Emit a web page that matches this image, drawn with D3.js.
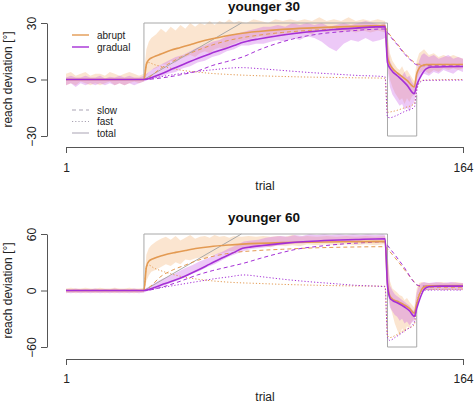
<!DOCTYPE html>
<html><head><meta charset="utf-8">
<script src="https://cdn.jsdelivr.net/npm/d3@7"></script>
<style>body{margin:0;background:#fff} svg{display:block;font-family:"Liberation Sans",Arial,Helvetica,sans-serif}</style>
</head><body><svg id="c" width="474" height="403"></svg>
<script>
// ---------- data ----------
const trialTicks = [1, 164];
const panelTitles = ["younger 30", "younger 60"];
const yTicks30 = [-30, 0, 30];
const yTicks60 = [-60, 0, 60];
const groupNames = ["abrupt", "gradual"];
const processNames = ["slow", "fast", "total"];

// perturbation schedules [trial, deg]
const schedAbrupt30 = [[1,0],[33,0],[33,30],[133,30],[133,-30],[145,-30],[145,-8]];
const schedRamp30 = [[33,0],[73,30]];
const schedAbrupt60 = [[1,0],[33,0],[33,60],[133,60],[133,-60],[145,-60],[145,-20]];
const schedRamp60 = [[33,0],[73,60]];

// data confidence bands [trial, lo, hi]
const abruptBand30 = [[1,-3,3],[3,-2,4],[5,-3,2],[7,-1,3],[9,-2,4],[11,-3,2],[13,-2,3],[15,-3,3],[17,-2,2],[19,-1,4],[21,-3,3],[23,-2,2],[25,-3,3],[27,-2,4],[29,-1,3],[31,-2,2],[33,-1,3],
 [34,2,16],[35,4,20],[36,5,22],[38,6,24],[40,8,27],[42,8,25],[44,10,28],[46,9,26],[48,11,29],[50,12,27],[52,13,30],[54,12,28],[56,14,30],[58,15,29],[60,14,31],[62,16,29],[64,17,31],[66,16,30],[68,18,32],[70,19,30],[72,20,31],[75,21,30],[78,22,32],[81,23,31],[84,22,30],[87,24,32],[90,23,31],[93,25,32],[96,24,31],[99,25,32],[102,24,31],[105,26,33],[108,25,31],[111,26,32],[114,25,31],[117,26,33],[120,25,31],[123,26,32],[126,25,31],[129,26,32],[132,25,31],
 [133,8,24],[134,0,14],[135,-4,10],[136,-7,8],[137,-9,6],[138,-11,5],[139,-10,7],[140,-13,4],[141,-10,5],[142,-12,3],[143,-9,1],[144,-8,-1],
 [145,0,10],[146,3,14],[147,4,15],[148,5,16],[150,3,13],[152,5,14],[154,4,12],[156,6,13],[158,5,12],[160,6,13],[162,5,12],[164,6,11]];
const gradualBand30 = [[1,-3,1],[3,-2,2],[5,-4,1],[7,-2,1],[9,-3,2],[11,-2,1],[13,-3,1],[15,-2,2],[17,-3,0.5],[19,-2,1.5],[21,-3,1],[23,-2,2],[25,-3,1],[27,-2,2],[29,-3,1],[31,-2,1],[33,-1,2],
 [35,0,4],[37,0.5,6],[40,1.5,8],[43,3,10],[46,4,12],[49,6,13],[52,7,15],[55,9,17],[58,10,18],[61,12,20],[64,13,21],[67,15,23],[70,16,24],[73,18,25],[76,18,26],[79,19,27],[82,19,28],[85,20,28],[88,21,29],[91,20,28],[94,22,30],[97,21,29],[100,23,30],[103,22,29],[106,20,30],[109,17,28],[112,15,29],[115,19,30],[118,21,29],[121,20,30],[124,22,31],[127,20,30],[130,21,29],[132,22,30],
 [133,5,20],[134,-4,10],[135,-8,7],[136,-10,5],[137,-12,4],[138,-14,3],[139,-13,2],[140,-16,4],[141,-15,1],[142,-17,2],[143,-14,-1],[144,-12,-3],
 [145,-6,4],[146,0,10],[147,2,13],[148,3,14],[150,2,12],[152,4,13],[154,3,11],[156,5,12],[158,4,13],[160,3,11],[162,5,12],[164,4,11]];
const abruptBand60 = [[1,-3,2],[3,-2,3],[5,-3,2],[7,-2,2],[9,-3,3],[11,-2,2],[13,-3,2],[15,-2,3],[17,-3,2],[19,-2,2],[21,-3,3],[23,-2,2],[25,-3,2],[27,-2,3],[29,-3,2],[31,-2,2],[33,-2,3],
 [34,10,38],[35,16,45],[36,20,48],[38,22,52],[40,25,55],[42,28,57],[44,26,54],[46,30,58],[48,28,53],[50,33,56],[52,32,59],[54,34,55],[56,35,57],[58,33,58],[60,37,56],[62,38,59],[64,39,57],[66,40,58],[68,42,56],[70,42,58],[73,44,57],[76,45,58],[79,46,57],[82,47,58],[85,46,57],[88,48,58],[91,47,57],[94,48,59],[97,47,57],[100,49,58],[104,48,57],[108,49,58],[112,48,57],[116,49,58],[120,48,57],[124,49,58],[128,48,57],[132,49,58],
 [133,5,40],[134,-15,10],[135,-25,2],[136,-35,0],[137,-42,-2],[138,-48,-5],[139,-40,-6],[140,-45,-10],[141,-38,-8],[142,-40,-12],[143,-33,-15],[144,-30,-18],
 [145,-10,2],[146,-1,8],[147,1,9],[149,2,8],[152,1,8],[155,2,9],[158,1,8],[161,2,9],[164,1,8]];
const gradualBand60 = [[1,-2,1.5],[3,-3,1],[5,-2,2],[7,-3,1],[9,-2,1.5],[11,-3,1],[13,-2,2],[15,-3,1],[17,-2,1.5],[19,-3,1],[21,-2,2],[23,-3,1],[25,-2,1.5],[27,-3,1],[29,-2,2],[31,-3,1],[33,-2,1.5],
 [35,0,4],[38,2,9],[41,5,13],[44,8,16],[47,11,20],[50,14,24],[53,18,27],[56,21,31],[59,25,34],[62,28,38],[65,32,41],[68,36,45],[71,39,48],[74,42,52],[77,44,53],[80,45,54],[83,46,56],[86,47,57],[89,48,58],[92,49,57],[95,50,59],[98,50,58],[101,51,60],[104,51,59],[107,52,60],[110,52,59],[113,53,60],[116,52,59],[119,53,60],[122,53,59],[125,54,60],[128,53,59],[131,54,60],[132,53,59],
 [133,0,35],[134,-18,5],[135,-22,0],[136,-26,-4],[137,-28,-6],[138,-32,-8],[139,-30,-10],[140,-35,-12],[141,-33,-14],[142,-37,-16],[143,-34,-20],[144,-32,-22],
 [145,-15,-2],[146,-4,6],[147,0,8],[148,1,9],[150,0,8],[153,1,9],[156,0,8],[159,1,9],[162,0,8],[164,1,8]];

// model fits [trial, deg]
const abruptTotal30 = [[1,0],[33,0],[34,8],[35,10.5],[37,12],[40,13.5],[44,15.5],[48,17],[52,18.5],[56,20],[61,21.6],[66,23],[72,24.3],[80,25.5],[90,26.6],[100,27.3],[110,27.8],[120,28.2],[132,28.6],[133,12],[134,8],[135,6],[137,3.5],[139,1.5],[141,-0.5],[144,-4],[145,3],[146,6],[147,7.3],[149,7.9],[152,8],[164,8]];
const abruptSlow30 = [[1,0],[33,0],[34,0.3],[36,2],[40,6],[44,9],[48,11.8],[52,14],[56,16],[61,18.3],[66,20.2],[72,21.9],[80,23.5],[90,25],[100,26],[110,26.7],[120,27.3],[132,27.8],[133,25.5],[135,22],[137,19],[140,14],[142,11.5],[144,9],[145,8.2],[148,8],[164,8]];
const abruptFast30 = [[1,0],[33,0],[34,8],[35,9],[37,8],[40,7],[44,6],[48,5],[52,4.3],[56,3.8],[61,3.2],[66,2.8],[72,2.4],[80,2],[90,1.6],[100,1.3],[110,1.1],[120,0.9],[132,0.7],[133,-17.4],[135,-17],[140,-15],[144,-12.9],[145,-5],[146,-1.5],[148,-0.3],[164,0]];
const gradualTotal30 = [[1,0],[33,0],[37,1.5],[41,3.5],[45,5.8],[50,8.5],[55,11.2],[60,13.6],[65,15.8],[70,18],[73,19.5],[76,20.5],[80,21.5],[90,23.6],[100,25.2],[110,26.4],[120,27.3],[132,28.1],[133,9],[134,6],[135,4.3],[137,2],[139,-0.3],[141,-3],[144,-7.5],[145,-3],[146,0],[147,2.5],[148,4.5],[149,5.8],[151,6.6],[164,6.9]];
const gradualSlow30 = [[1,0],[33,0],[40,0.8],[48,2.5],[55,4.5],[61,7.4],[67,9.5],[74,12.2],[80,15.6],[88,19.3],[95,21.8],[104,24],[115,25.5],[132,26.8],[133,25],[135,21.5],[137,18.5],[140,13.5],[142,11],[144,8.5],[145,7.8],[148,7.3],[164,7.2]];
const gradualFast30 = [[1,0],[33,0],[40,1.5],[50,3.5],[60,5],[73,6.3],[80,5.8],[90,4.8],[100,3.8],[110,3],[120,2.2],[132,1.5],[133,-20],[134,-20.3],[136,-19.5],[140,-17],[144,-14.7],[145,-6],[146,-2],[148,-0.5],[164,-0.3]];

const abruptTotal60 = [[1,0],[33,0],[34,25],[35,31],[37,34],[41,37.5],[46,40.5],[50,42.5],[55,44.8],[60,46.5],[68,48.3],[80,50],[90,50.8],[100,51.3],[115,51.8],[132,52.2],[133,8],[134,-6],[135,-9],[137,-11.5],[140,-15.5],[142,-19],[144,-24],[145,-14],[146,-5],[147,1],[148,3.8],[150,5],[164,5.2]];
const abruptSlow60 = [[1,0],[33,0],[35,3],[40,15],[45,22],[50,27],[55,32],[60,35.5],[70,40.3],[80,42.5],[90,43.8],[100,45],[115,46],[132,46.5],[133,44],[136,35],[140,22],[144,9],[145,6],[147,4],[150,3.5],[164,3.5]];
const abruptFast60 = [[1,0],[33,0],[34,25],[35,27],[37,24],[40,21],[45,17],[50,14],[55,12],[60,10.5],[70,8.5],[80,7.5],[90,6.5],[100,5.8],[115,5],[132,4.5],[133,-48],[134,-50],[136,-48],[140,-42],[144,-36.5],[145,-14],[146,-4],[147,-0.5],[149,1],[164,1.3]];
const gradualTotal60 = [[1,0],[33,0],[37,3],[41,6.8],[45,10.3],[50,15.5],[55,21.5],[60,28],[65,34.5],[70,40.5],[73.5,44.8],[77,46.3],[81,47.6],[90,50],[100,52],[110,53.3],[120,54.2],[132,55],[133,5],[134,-8],[135,-10.5],[137,-13],[140,-17.5],[142,-21.5],[144,-27.5],[145,-19],[146,-11],[147,-4],[148,1],[149,3.3],[151,4.3],[155,4.6],[164,4.6]];
const gradualSlow60 = [[1,0],[33,0],[41,4],[47,9],[55,16.5],[61,21],[68,25.3],[74,29],[81,34.3],[90,40.5],[96,44],[105,47],[115,49.5],[125,51],[132,51.8],[133,48],[136,38],[140,24],[144,8.5],[145,6],[147,4.8],[150,4.5],[164,4.5]];
const gradualFast60 = [[1,0],[33,0],[40,3],[48,6.5],[55,9.5],[62,12.5],[68,14.5],[74,16.5],[81,14.7],[90,12],[100,9.5],[110,7.5],[120,5.5],[132,4],[133,-50],[134,-53],[136,-50],[140,-43],[144,-34],[145,-15],[146,-5],[147,-1],[149,0.5],[164,0.5]];

// ---------- drawing ----------
const svg = d3.select("#c");
const colAbrupt = "#e39a52", colGradual = "#a52fd6";
const fillAbrupt = "#f3aa62", fillGradual = "#c656e6";
const grey = "#a8a8a8", axisCol = "#555";

const panels = [
  {title: panelTitles[0], ticks: yTicks30, dom: [-30,30], yr: [136,23], axisY: 147, titleY: 11, labY: 172, trialY: 190,
   bands: [abruptBand30, gradualBand30], sched: [schedAbrupt30, schedRamp30],
   models: [[abruptSlow30, abruptFast30, abruptTotal30],[gradualSlow30, gradualFast30, gradualTotal30]]},
  {title: panelTitles[1], ticks: yTicks60, dom: [-60,60], yr: [347,234], axisY: 359, titleY: 222, labY: 383, trialY: 401,
   bands: [abruptBand60, gradualBand60], sched: [schedAbrupt60, schedRamp60],
   models: [[abruptSlow60, abruptFast60, abruptTotal60],[gradualSlow60, gradualFast60, gradualTotal60]]}
];

const x = d3.scaleLinear().domain([1,164]).range([66,463]);
const lineCols = [colAbrupt, colGradual];
const fills = [fillAbrupt, fillGradual];
const dashes = ["4,3", "1.2,2", null];

panels.forEach((p, pi) => {
  const y = d3.scaleLinear().domain(p.dom).range(p.yr);
  const g = svg.append("g");
  // bands
  p.bands.forEach((b, i) => {
    g.append("path").datum(b)
      .attr("d", d3.area().x(d => x(d[0])).y0(d => y(d[1])).y1(d => y(d[2])))
      .attr("fill", fills[i]).attr("fill-opacity", i === 0 ? 0.3 : 0.32).attr("stroke", "none");
  });
  // schedules
  p.sched.forEach(s => {
    g.append("path").datum(s)
      .attr("d", d3.line().x(d => x(d[0])).y(d => y(d[1])))
      .attr("fill", "none").attr("stroke", grey).attr("stroke-width", 1);
  });
  // models: slow & fast first, then totals
  [0,1].forEach(k => {
    p.models.forEach((m, gi) => {
      g.append("path").datum(m[k])
        .attr("d", d3.line().x(d => x(d[0])).y(d => y(d[1])).curve(d3.curveMonotoneX))
        .attr("fill", "none").attr("stroke", lineCols[gi]).attr("stroke-width", 1)
        .attr("stroke-dasharray", dashes[k]);
    });
  });
  p.models.forEach((m, gi) => {
    g.append("path").datum(m[2])
      .attr("d", d3.line().x(d => x(d[0])).y(d => y(d[1])).curve(d3.curveMonotoneX))
      .attr("fill", "none").attr("stroke", lineCols[gi]).attr("stroke-width", 1.6);
  });

  // y axis
  const ya = g.append("g").attr("transform", "translate(47,0)")
    .call(d3.axisLeft(y).tickValues(p.ticks).tickSize(6).tickSizeOuter(0).tickFormat(d => d === 0 ? "0" : String(d).replace("-", "\u2212")));
  ya.select(".domain").attr("stroke", axisCol);
  ya.selectAll(".tick line").attr("stroke", axisCol);
  ya.selectAll(".tick text").attr("x", null).attr("dy", null)
    .attr("transform", "translate(-11,0) rotate(-90)").attr("text-anchor", "middle")
    .attr("fill", "#222").style("font-size", "12px").style("font-family", "Liberation Sans, Arial, sans-serif");

  // x axis
  const xa = g.append("g").attr("transform", `translate(0,${p.axisY})`)
    .call(d3.axisBottom(x).tickValues(trialTicks).tickSize(6).tickSizeOuter(0).tickFormat(d3.format("d")));
  xa.select(".domain").attr("stroke", axisCol);
  xa.selectAll(".tick line").attr("stroke", axisCol);
  xa.selectAll(".tick text").attr("y", null).attr("dy", null)
    .attr("transform", `translate(0,${p.labY - p.axisY})`)
    .attr("fill", "#222").style("font-size", "12px").style("font-family", "Liberation Sans, Arial, sans-serif");

  // labels
  g.append("text").attr("x", 265).attr("y", p.trialY).attr("text-anchor", "middle")
    .attr("fill", "#222").style("font-size", "12px").text("trial");
  g.append("text").attr("transform", `translate(12,${(p.yr[0]+p.yr[1])/2}) rotate(-90)`)
    .attr("text-anchor", "middle").attr("fill", "#222").style("font-size", "12px").text("reach deviation [°]");
  g.append("text").attr("x", 264).attr("y", p.titleY).attr("text-anchor", "middle")
    .attr("fill", "#111").style("font-size", "13.5px").style("font-weight", "bold").text(p.title);
});

// legends (top panel)
const leg = svg.append("g").style("font-size", "10px");
groupNames.forEach((n, i) => {
  const yy = 35 + i * 12;
  leg.append("line").attr("x1", 72).attr("x2", 89).attr("y1", yy).attr("y2", yy)
    .attr("stroke", lineCols[i]).attr("stroke-width", 1.4);
  leg.append("text").attr("x", 97).attr("y", yy + 3.5).attr("fill", "#222").text(n);
});
processNames.forEach((n, i) => {
  const yy = 110 + i * 11.5;
  leg.append("line").attr("x1", 72).attr("x2", 89).attr("y1", yy).attr("y2", yy)
    .attr("stroke", "#a9a3b3").attr("stroke-width", 1).attr("stroke-dasharray", dashes[i]);
  leg.append("text").attr("x", 97).attr("y", yy + 3.5).attr("fill", "#222").text(n);
});
</script></body></html>
